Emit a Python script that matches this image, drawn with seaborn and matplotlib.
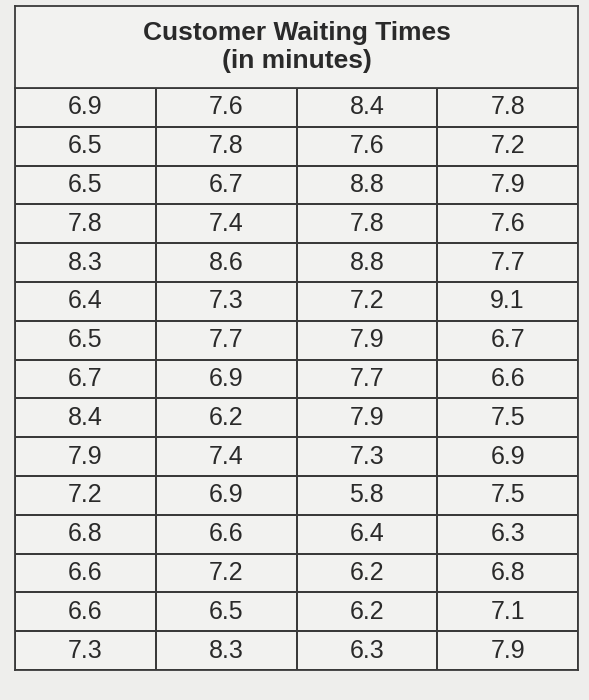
import numpy as np
import pandas as pd
import seaborn as sns
import matplotlib.pyplot as plt
from matplotlib.colors import ListedColormap

title = "Customer Waiting Times\n(in minutes)"
col1 = [6.9, 6.5, 6.5, 7.8, 8.3, 6.4, 6.5, 6.7, 8.4, 7.9, 7.2, 6.8, 6.6, 6.6, 7.3]
col2 = [7.6, 7.8, 6.7, 7.4, 8.6, 7.3, 7.7, 6.9, 6.2, 7.4, 6.9, 6.6, 7.2, 6.5, 8.3]
col3 = [8.4, 7.6, 8.8, 7.8, 8.8, 7.2, 7.9, 7.7, 7.9, 7.3, 5.8, 6.4, 6.2, 6.2, 6.3]
col4 = [7.8, 7.2, 7.9, 7.6, 7.7, 9.1, 6.7, 6.6, 7.5, 6.9, 7.5, 6.3, 6.8, 7.1, 7.9]

data = pd.DataFrame({"c1": col1, "c2": col2, "c3": col3, "c4": col4})

sns.set_theme(style="white")
plt.rcParams['font.family'] = ['Liberation Sans', 'DejaVu Sans']

W, H = 589, 700
fig = plt.figure(figsize=(W / 100, H / 100), dpi=100)
fig.patch.set_facecolor("#eeeeec")

left, right = 15 / W, 578 / W
ax = fig.add_axes([left, (H - 670) / H, right - left, (670 - 88) / H])
sns.heatmap(data, ax=ax, cmap=ListedColormap(["#f2f2f0"]), cbar=False,
            annot=True, fmt=".1f", linewidths=1.3, linecolor="#3a3a3a",
            annot_kws={"fontsize": 18, "color": "#2a2a2a"})
ax.set_xticks([])
ax.set_yticks([])
ax.set_xlabel("")
ax.set_ylabel("")
for s in ax.spines.values():
    s.set_visible(True)
    s.set_color("#3a3a3a")
    s.set_linewidth(1.3)

tax = fig.add_axes([left, (H - 88) / H, right - left, 82 / H])
tax.set_facecolor("#f2f2f0")
tax.set_xticks([])
tax.set_yticks([])
for s in tax.spines.values():
    s.set_color("#3a3a3a")
    s.set_linewidth(1.3)
tax.text(0.5, 0.5, title, ha="center", va="center", fontsize=19,
         fontweight="bold", color="#2a2a2a", linespacing=1.25,
         transform=tax.transAxes)

fig.savefig("out.png", dpi=100, facecolor=fig.get_facecolor())
